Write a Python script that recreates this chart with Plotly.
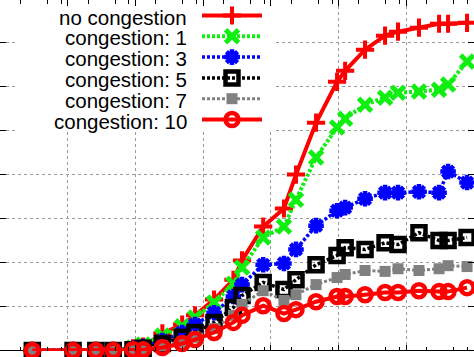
import plotly.graph_objects as go

# ---- data ----
x_values = [3, 12, 26, 47, 92, 130, 250, 490, 760, 1450, 2800, 3750, 7700, 15600,
            23500, 46500, 95000, 125000, 246000, 486000, 755000, 1540000, 3050000,
            4140000, 7900000]

series_names = ["no congestion", "congestion: 1", "congestion: 3",
                "congestion: 5", "congestion: 7", "congestion: 10"]

no_congestion = [0, 0, 0, 0, 0.5, 0.9, 3.9, 5.9, 8.0, 11.6, 16.1, 20.5, 28.2, 32.3,
                 40.0, 51.8, 61.1, 63.6, 68.4, 71.6, 72.5, 73.4, 74.3, 74.3, 74.5]
congestion_1 = [0, 0, 0, 0, 0.7, 1.4, 3.4, 5.5, 7.5, 10.9, 15.2, 18.9, 25.7, 28.2,
                34.3, 43.9, 50.7, 52.7, 55.9, 57.5, 58.6, 58.9, 59.3, 60.5, 65.7]
congestion_3 = [0, 0, 0, 0, 0.5, 0.9, 2.3, 4.1, 5.9, 8.6, 12.3, 15.0, 19.5, 19.8,
                23.0, 28.4, 31.8, 32.5, 34.5, 35.9, 35.9, 36.1, 35.9, 40.7, 38.2]
congestion_5 = [0, 0, 0, 0, 0.2, 0.5, 1.6, 3.0, 4.1, 6.4, 9.8, 12.5, 15.5, 13.9,
                16.1, 19.5, 21.6, 23.4, 23.0, 24.5, 24.1, 26.8, 25.0, 25.0, 25.7]
congestion_7 = [0, 0, 0, 0, 0.2, 0.2, 1.1, 2.0, 3.0, 5.0, 8.0, 10.5, 13.6, 11.4,
                12.7, 15.0, 16.6, 17.3, 18.2, 18.0, 18.6, 18.2, 18.6, 19.3, 19.1]
congestion_10 = [0, 0, 0, 0, 0.2, 0.2, 0.7, 1.6, 2.5, 4.1, 6.4, 8.0, 10.2, 8.4,
                 9.3, 11.1, 12.3, 12.3, 12.7, 13.2, 13.2, 13.6, 13.4, 13.4, 14.3]

series_values = [no_congestion, congestion_1, congestion_3,
                 congestion_5, congestion_7, congestion_10]

# ---- styles ----
colors = ["#ff0000", "#11ee11", "#0000ff", "#000000", "#808080", "#ff0000"]
dashes = ["solid", "3px,2px", "3px,2px", "3px,2px", "3px,2px", "solid"]
line_widths = [4, 4, 3.5, 3.5, 3, 4]
markers = [
    dict(symbol="cross-thin", size=13, line=dict(width=4)),
    dict(symbol="x-thin", size=13, line=dict(width=5)),
    dict(symbol="asterisk", size=13, line=dict(width=4.5)),
    dict(symbol="square-open", size=13, line=dict(width=4.5)),
    dict(symbol="square", size=11, line=dict(width=0)),
    dict(symbol="circle-open", size=13, line=dict(width=4.5)),
]

fig = go.Figure()

for name, vals, c, d, w, m in zip(series_names, series_values, colors, dashes,
                                  line_widths, markers):
    mk = dict(m)
    mk["color"] = c
    mk["line"] = dict(m["line"], color=c)
    fig.add_trace(go.Scatter(x=x_values, y=vals, mode="lines+markers", name=name,
                             line=dict(color=c, width=w, dash=d), marker=mk,
                             showlegend=False, cliponaxis=False))

# ---- hand-built gnuplot-style key (opaque box, text right aligned, sample right) ----
W, H = 474, 351
key_box = (15, 273, 0, 131)   # left, right, top, bottom in plot pixels
key_text_right = 189
key_sample = (202, 262)
key_row0 = 15.5
key_row_step = 20.8

fig.add_trace(go.Scatter(
    x=[key_box[0], key_box[1], key_box[1], key_box[0], key_box[0]],
    y=[key_box[2], key_box[2], key_box[3], key_box[3], key_box[2]],
    mode="lines", fill="toself", fillcolor="white", line=dict(width=0),
    xaxis="x2", yaxis="y2", showlegend=False, hoverinfo="skip"))

for i, (name, c, d, w, m) in enumerate(zip(series_names, colors, dashes,
                                           line_widths, markers)):
    ry = key_row0 + i * key_row_step
    fig.add_trace(go.Scatter(x=[key_sample[0], key_sample[1]], y=[ry, ry],
                             mode="lines", line=dict(color=c, width=w, dash=d),
                             xaxis="x2", yaxis="y2", showlegend=False,
                             hoverinfo="skip", cliponaxis=False))
    mk = dict(m)
    mk["color"] = c
    mk["line"] = dict(m["line"], color=c)
    fig.add_trace(go.Scatter(x=[(key_sample[0] + key_sample[1]) / 2], y=[ry],
                             mode="markers", marker=mk,
                             xaxis="x2", yaxis="y2", showlegend=False,
                             hoverinfo="skip", cliponaxis=False))
    fig.add_annotation(x=key_text_right, y=ry + 1.5, xref="x2", yref="y2",
                       text=name, showarrow=False, xanchor="right",
                       yanchor="middle",
                       font=dict(family="Liberation Sans, Arial, sans-serif",
                                 size=20.5, color="black"))

minor_vals = [m * 10 ** k for k in range(0, 7) for m in (2, 5, 8)]

fig.update_layout(
    width=474, height=357,
    margin=dict(l=0, r=0, t=0, b=6),
    paper_bgcolor="white", plot_bgcolor="white",
    showlegend=False,
    xaxis=dict(type="log", range=[0, 7], dtick=1, showgrid=True,
               gridcolor="#9a9a9a", griddash="dot", gridwidth=1,
               ticks="inside", ticklen=6, tickwidth=1, tickcolor="black",
               showticklabels=False, showline=False, zeroline=False,
               mirror="ticks",
               minor=dict(ticks="inside", ticklen=4, tickwidth=1,
                          tickcolor="black", tickmode="array",
                          tickvals=minor_vals, showgrid=False)),
    yaxis=dict(range=[-0.1, 79.7], dtick=10, tick0=0, showgrid=True,
               gridcolor="#9a9a9a", griddash="dot", gridwidth=1,
               ticks="inside", ticklen=6, tickwidth=1, tickcolor="black",
               showticklabels=False, showline=False,
               zeroline=True, zerolinecolor="black", zerolinewidth=1.5,
               mirror="ticks"),
    xaxis2=dict(overlaying="x", anchor="y2", range=[0, W], visible=False,
                fixedrange=True),
    yaxis2=dict(overlaying="y", anchor="x2", range=[H, 0], visible=False,
                fixedrange=True),
)

fig.write_html("out.html",
               config={"displayModeBar": False, "staticPlot": True},
               post_script="document.body.style.margin='0';"
                           "document.body.style.overflow='hidden';")
